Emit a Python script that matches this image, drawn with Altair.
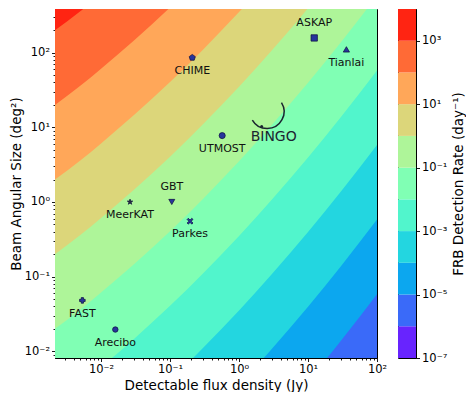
import altair as alt
import pandas as pd

# ---------------- data ----------------
# Beam size (deg^2) at which the detection rate equals 1 per day, along flux density (Jy)
flux_grid = [0.002, 0.005, 0.01, 0.03, 0.1, 0.3, 1, 3, 10, 30, 100]
omega_rate1 = [0.19, 0.36, 0.61, 1.46, 4.05, 11.0, 35.1, 108, 395, 1380, 5800]

# colour bands: rate from 10^k to 10^(k+1) per day
band_exp = [-7, -6, -5, -4, -3, -2, -1, 0, 1, 2, 3]
band_colors = ["#6824FE", "#3A6AF9", "#0CA7EF", "#23D6E0", "#51F5CC", "#80FFB4",
               "#AEF599", "#DCD67A", "#FFA759", "#FF6A36", "#FF2412"]

# instruments
inst_names = ["CHIME", "ASKAP", "Tianlai", "UTMOST", "GBT", "Parkes", "MeerKAT", "FAST", "Arecibo"]
inst_flux = [0.21, 12.3, 36.0, 0.57, 0.106, 0.195, 0.0263, 0.00536, 0.0161]
inst_omega = [86.0, 158.0, 111.0, 7.75, 1.0, 0.552, 1.0, 0.0479, 0.0195]
inst_label_side = ["below", "above", "below", "below", "above", "below", "below", "below", "below"]

# BINGO logo: dish arc centre, dot, and text
bingo_arc_flux = [2.55]
bingo_arc_omega = [16.3]
bingo_dot_flux = [2.13]
bingo_dot_omega = [10.3]
bingo_text_flux = [3.18]
bingo_text_omega = [7.36]

x_ticks_major = [0.01, 0.1, 1, 10, 100]
y_ticks_major = [0.01, 0.1, 1, 10, 100]
cbar_ticks = [1e-7, 1e-5, 1e-3, 1e-1, 1e1, 1e3]

# ---------------- helpers ----------------
SUP = {"-": "\u207b", "0": "\u2070", "1": "\u00b9", "2": "\u00b2", "3": "\u00b3",
       "4": "\u2074", "5": "\u2075", "6": "\u2076", "7": "\u2077", "8": "\u2078", "9": "\u2079"}


def sup_label(e):
    return "10" + "".join(SUP[ch] for ch in str(e))


def label_expr(values):
    import math
    expr = "''"
    for v in reversed(values):
        e = int(round(math.log10(v)))
        expr = f"(datum.value > {v*0.99} && datum.value < {v*1.01}) ? '{sup_label(e)}' : {expr}"
    return expr


def minor_values(lo, hi):
    vals = []
    for e in range(-4, 4):
        for m in range(1, 10):
            v = m * 10.0 ** e
            if lo <= v <= hi * 1.0001:
                vals.append(float(f"{v:.6g}"))
    return vals


IS_MAJOR = "abs(log(datum.value)/LN10 - round(log(datum.value)/LN10)) < 0.001"
FONT = "DejaVu Sans"

x_dom = [0.00215, 100]
y_dom = [0.0081, 386]

xscale = alt.Scale(type="log", domain=x_dom, nice=False)
yscale = alt.Scale(type="log", domain=y_dom, nice=False)

x_axis = alt.Axis(
    title="Detectable flux density (Jy)", values=minor_values(*x_dom),
    labelExpr=label_expr(x_ticks_major), grid=False,
    tickSize={"condition": {"test": IS_MAJOR, "value": 3.5}, "value": 2},
    labelFontSize=11.5, titleFontSize=13.5, labelPadding=2, titlePadding=3,
    labelFlush=False, labelOverlap=False,
)
y_axis = alt.Axis(
    title="Beam Angular Size (deg\u00b2)", values=minor_values(*y_dom),
    labelExpr=label_expr(y_ticks_major), grid=False,
    tickSize={"condition": {"test": IS_MAJOR, "value": 3.5}, "value": 2},
    labelFontSize=11.5, titleFontSize=13.5, labelPadding=2, titlePadding=1,
    labelFlush=False, labelOverlap=False,
)


def X(field):
    return alt.X(field, type="quantitative", scale=xscale, axis=x_axis)


def Y(field, **kw):
    return alt.Y(field, type="quantitative", scale=yscale, axis=y_axis, **kw)


# ---------------- filled bands ----------------
areas = []
for i, (k, c) in enumerate(zip(band_exp, band_colors)):
    lo_k = k if i > 0 else k - 8
    df = pd.DataFrame({
        "flux": flux_grid,
        "lo": [o * 10.0 ** lo_k for o in omega_rate1],
        "hi": [o * 10.0 ** (k + 14) for o in omega_rate1],
    })
    areas.append(
        alt.Chart(df).mark_area(color=c, clip=True, interpolate="monotone").encode(
            x=X("flux"), y=Y("lo", stack=None), y2="hi:Q",
        )
    )

# ---------------- instruments ----------------
inst = pd.DataFrame({"name": inst_names, "flux": inst_flux, "omega": inst_omega,
                     "side": inst_label_side})

shape_map = {
    "CHIME": "M0,-1 L0.951,-0.309 L0.588,0.809 L-0.588,0.809 L-0.951,-0.309 Z",
    "ASKAP": "square",
    "Tianlai": "triangle-up",
    "UTMOST": "circle",
    "GBT": "triangle-down",
    "Parkes": "M-1,-0.6 L-0.6,-1 L0,-0.4 L0.6,-1 L1,-0.6 L0.4,0 L1,0.6 L0.6,1 L0,0.4 L-0.6,1 L-1,0.6 L-0.4,0 Z",
    "MeerKAT": "M0,-1 L0.2245,-0.309 L0.951,-0.309 L0.363,0.118 L0.588,0.809 L0,0.382 L-0.588,0.809 L-0.363,0.118 L-0.951,-0.309 L-0.2245,-0.309 Z",
    "FAST": "cross",
    "Arecibo": "circle",
}
size_map = {"CHIME": 42, "ASKAP": 30, "Tianlai": 40, "UTMOST": 26, "GBT": 44,
            "Parkes": 30, "MeerKAT": 44, "FAST": 40, "Arecibo": 52}
fill_map = {n: "#27359c" for n in inst_names}
fill_map["MeerKAT"] = "#2c3340"

points = alt.Chart(inst).mark_point(filled=True, opacity=1, stroke="#0c0c3c", strokeWidth=0.7).encode(
    x=X("flux"), y=Y("omega"),
    shape=alt.Shape("name:N", scale=alt.Scale(domain=inst_names, range=[shape_map[n] for n in inst_names]), legend=None),
    size=alt.Size("name:N", scale=alt.Scale(domain=inst_names, range=[size_map[n] for n in inst_names]), legend=None),
    color=alt.Color("name:N", scale=alt.Scale(domain=inst_names, range=[fill_map[n] for n in inst_names]), legend=None),
)

labels_below = alt.Chart(inst).transform_filter("datum.side == 'below'").mark_text(
    font=FONT, fontSize=11, color="#111111", baseline="middle", dy=13.2
).encode(x=X("flux"), y=Y("omega"), text="name:N")
labels_above = alt.Chart(inst).transform_filter("datum.side == 'above'").mark_text(
    font=FONT, fontSize=11, color="#111111", baseline="middle", dy=-14.8
).encode(x=X("flux"), y=Y("omega"), text="name:N")

# ---------------- BINGO logo ----------------
bingo_arc = alt.Chart(pd.DataFrame({"flux": bingo_arc_flux, "omega": bingo_arc_omega})).mark_point(
    shape="M0.848,-0.53 A1,1 0 1,1 -0.866,0.5", filled=False, size=1156,
    stroke="#1b2530", strokeWidth=1.5, opacity=1
).encode(x=X("flux"), y=Y("omega"))
bingo_dot = alt.Chart(pd.DataFrame({"flux": bingo_dot_flux, "omega": bingo_dot_omega})).mark_point(
    shape="circle", filled=True, size=9, color="#1b2530", opacity=1
).encode(x=X("flux"), y=Y("omega"))
bingo_text = alt.Chart(pd.DataFrame({"flux": bingo_text_flux, "omega": bingo_text_omega, "t": ["BINGO"]})).mark_text(
    font=FONT, fontSize=14, color="#1b2530", baseline="middle"
).encode(x=X("flux"), y=Y("omega"), text="t:N")

main = alt.layer(*areas, points, labels_below, labels_above, bingo_arc, bingo_dot, bingo_text).properties(
    width=322, height=349
)

# ---------------- colour bar ----------------
cb = pd.DataFrame({
    "lo": [10.0 ** k for k in band_exp],
    "hi": [10.0 ** (k + 1) for k in band_exp],
    "c": band_colors,
})
cbar = alt.Chart(cb).mark_rect().encode(
    x=alt.datum(0, scale=alt.Scale(domain=[0, 1]), axis=None),
    x2=alt.datum(1),
    y=alt.Y("lo:Q", scale=alt.Scale(type="log", domain=[1e-7, 1e4], nice=False),
            axis=alt.Axis(orient="right", values=cbar_ticks, labelExpr=label_expr(cbar_ticks),
                          title="FRB Detection Rate (day\u207b\u00b9)", titleAngle=270, titleBaseline="top",
                          grid=False, tickSize=3.5, labelFontSize=11.5, titleFontSize=13.5,
                          labelPadding=2, titlePadding=5, labelFlush=False, labelOverlap=False)),
    y2="hi:Q",
    color=alt.Color("c:N", scale=None),
).properties(width=18, height=349)

chart = alt.hconcat(main, cbar, spacing=21, bounds="flush").properties(
    padding={"left": 0, "top": 0, "right": 0, "bottom": 0}
).configure_view(stroke="black", strokeWidth=1).configure_axis(
    labelFont=FONT, titleFont=FONT, labelColor="black", titleColor="black",
    tickColor="black", domainColor="black", titleFontWeight="normal", tickWidth=0.9, domainWidth=1,
)

chart.save("out.html", embed_options={"renderer": "svg", "actions": False})
